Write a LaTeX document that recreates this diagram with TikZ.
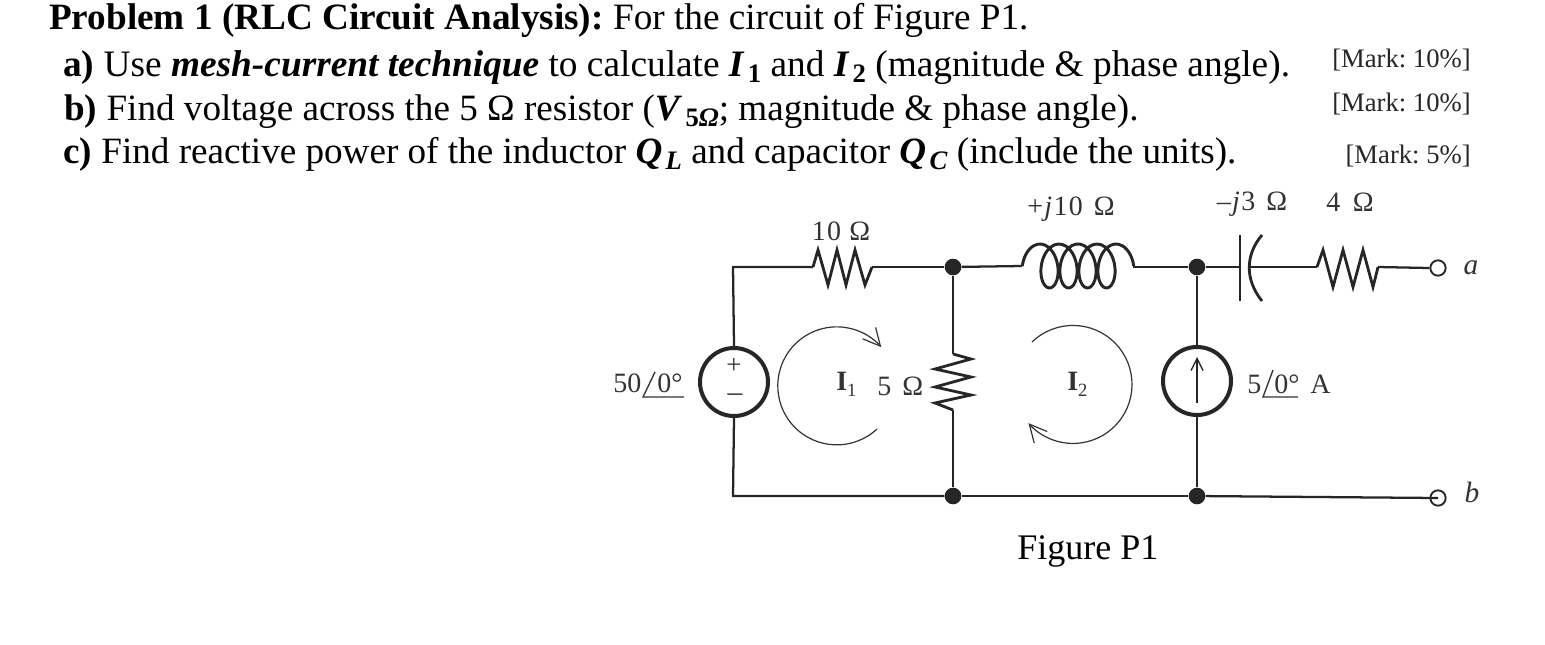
\documentclass[tikz,border=0pt]{standalone}
\usepackage{fontspec}
\setmainfont{Liberation Serif}
\usetikzlibrary{arrows.meta}
\frenchspacing
\newcommand{\fsz}[1]{\fontsize{#1}{#1}\selectfont}
\newcommand{\bsub}[2]{\textbf{\textit{#1}}\kern2.5pt\raisebox{-5.2pt}{\fontsize{20}{20}\selectfont\textbf{#2}}}
\tikzset{
  prob/.style={anchor=base west,inner sep=0,font=\fsz{28},text=black},
  markbox/.style={anchor=base east,inner sep=0,font=\fsz{20},text=black!85},
  lab/.style={inner sep=0,font=\fsz{21},text=black!80},
  wire/.style={draw=black!85,line width=1.7pt,line join=round},
  comp/.style={draw=black!85,line width=2.1pt,line join=miter},
  src/.style={circle,draw=black!85,line width=3pt,minimum size=51pt,inner sep=0,fill=white},
  dot/.style={circle,fill=black!85,minimum size=12.5pt,inner sep=0},
  term/.style={circle,draw=black!85,line width=1.4pt,minimum size=11.5pt,inner sep=0},
  mesh/.style={draw=black!80,line width=0.9pt},
  tip/.style={-{Straight Barb[length=13pt,width=13pt,line width=0.9pt]}}
}
\begin{document}
\begin{tikzpicture}[x=0.75pt,y=-0.75pt]
\useasboundingbox (0,0) rectangle (1545,644);
\node[prob,font=\fsz{27.9}] (t0) at (49,29) {\textbf{Problem 1 (RLC Circuit Analysis):} For the circuit of Figure P1.};
\node[prob] (t1) at (63,76) {\textbf{a)} Use \textbf{\textit{mesh-current technique}} to calculate \bsub{I}{1} and \bsub{I}{2} (magnitude \& phase angle).};
\node[prob,font=\fsz{27.85}] (t2) at (64,120) {\textbf{b)} Find voltage across the 5 Ω resistor (\bsub{V}{5\textit{Ω}}; magnitude \& phase angle).};
\node[prob,font=\fsz{27.85}] (t3) at (63,163) {\textbf{c)} Find reactive power of the inductor \bsub{Q}{\textit{L}} and capacitor \bsub{Q}{\textit{C}} (include the units).};
\node[markbox] (m1) at (1471,67) {[Mark: 10\%]};
\node[markbox] (m2) at (1471,111) {[Mark: 10\%]};
\node[markbox] (m3) at (1471,163) {[Mark: 5\%]};
% junctions
\node[dot] (n1) at (953,267) {};
\node[dot] (n2) at (1197,267) {};
\node[dot] (n3) at (953,496) {};
\node[dot] (n4) at (1197,496) {};
\node[term] (ta) at (1438,268) {};
\node[term] (tb) at (1438,498) {};
\node[src] (vs) at (734,382) {};
\node[src] (cs) at (1197,381) {};
\coordinate (tl) at (733,267);
\coordinate (bl) at (733,496);
\coordinate (r1a) at (813,267); \coordinate (r1b) at (872,267);
\coordinate (la) at (1022,266); \coordinate (lb) at (1133,267);
\coordinate (c1) at (1240,267); \coordinate (c2) at (1249,267);
\coordinate (r4a) at (1317,267); \coordinate (r4b) at (1378,267);
\coordinate (r5a) at (953,354); \coordinate (r5b) at (953,410);
% wires
\draw[wire] (vs.north) -- (tl) -- (r1a);
\draw[wire] (r1b) -- (n1);
\draw[wire] (n1) -- (la);
\draw[wire] (lb) -- (n2);
\draw[wire] (n2) -- (c1);
\draw[wire] (c2) -- (r4a);
\draw[wire] (r4b) -- (ta.west);
\draw[wire] (n1) -- (r5a);
\draw[wire] (r5b) -- (n3);
\draw[wire] (vs.south) -- (bl) -- (n3);
\draw[wire] (n3) -- (n4);
\draw[wire] (n4) -- (tb.center);
\draw[wire] (n2) -- (cs.north);
\draw[wire] (cs.south) -- (n4);
% resistors
\draw[comp] (r1a) -- (818,250) -- (828,285) -- (837,250) -- (846,285) -- (855,250) -- (865,285) -- (r1b);
\draw[comp] (r4a) -- (1323,250) -- (1333,287) -- (1343,250) -- (1353,287) -- (1363,250) -- (1373,287) -- (r4b);
\draw[comp] (r5a) -- (971,359) -- (935,369) -- (971,377) -- (935,387) -- (971,395) -- (935,403) -- (r5b);
% inductor
\draw[comp,line width=2.2pt] plot[smooth,domain=-90:1530,samples=120] ({1040+\x/18.95+13*sin(\x)},{266-22*cos(\x)});
% capacitor
\draw[comp] (1240,235) -- (1240,301);
\draw[comp] (1262,235) .. controls (1245,255) and (1245,280) .. (1262,301);
% source marks
\node[inner sep=0,font=\fsz{20},text=black!80] (plus) at (734,366) {+};
\node[inner sep=0,font=\fsz{22},text=black!80] (minus) at (735,398) {–};
\draw[line width=1pt,draw=black!85,-{Straight Barb[length=9pt,width=9pt,line width=1pt]}] (1197,403) -- (1197,357);
% mesh arrows (the y axis points down, so angles grow clockwise on the page)
\draw[mesh,tip] (877,429) arc[start angle=47,delta angle=272,radius=59];
\draw[mesh,tip] (1032,342) arc[start angle=226,delta angle=273,radius=59];
% labels
\node[lab] (l10) at (841,231) {1\kern1pt0\kern1pt\ Ω};
\node[lab] (lj10) at (1071,209) {+\kern1pt\textit{j}\kern1pt1\kern1pt0\kern3pt\ Ω};
\node[lab] (lj3) at (1252,204) {–\kern1pt\textit{j}\kern1pt3\kern3pt\ Ω};
\node[lab] (l4) at (1350,202) {4\kern4pt\ Ω};
\node[lab,font=\fsz{22}\itshape] (tla) at (1471,268) {a};
\node[lab,font=\fsz{22}\itshape] (tlb) at (1472,492) {b};
\node[lab,anchor=base west] (v50) at (613,392) {50};
\node[lab,anchor=base west] (v0) at (657,392) {0°};
\draw[draw=black!80,line width=1pt] (655,372) -- (643,397) -- (684,397);
\node[lab,anchor=base west] (i5) at (1247,393) {5};
\node[lab,anchor=base west] (i0) at (1274,393) {0°};
\node[lab,anchor=base west] (iA) at (1310,393) {A};
\draw[draw=black!80,line width=1pt] (1273,370) -- (1263,397) -- (1298,397);
\node[lab,anchor=base west] (i1) at (836,390) {\textbf{I}\raisebox{-5pt}{\fsz{14}1}};
\node[lab,anchor=base west] (r5) at (877,395) {5\kern3pt\ Ω};
\node[lab,anchor=base west] (i2) at (1067,390) {\textbf{I}\raisebox{-5pt}{\fsz{14}2}};
\node[prob,font=\fsz{27}] (fig) at (1017,559) {Figure P1};
\end{tikzpicture}
\end{document}
